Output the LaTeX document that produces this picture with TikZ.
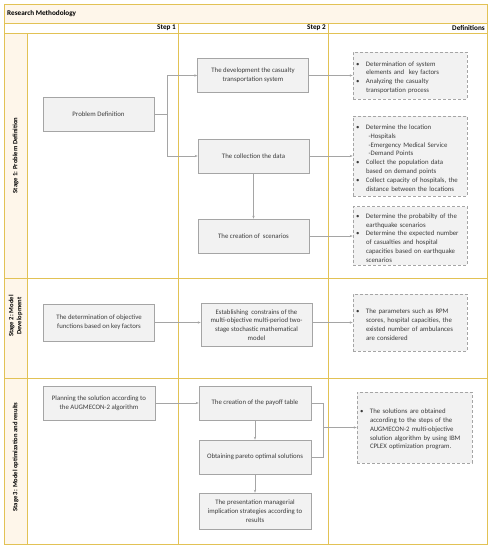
\documentclass[tikz,border=0pt]{standalone}
\usepackage{fontspec}
\setmainfont{Carlito}
\usetikzlibrary{arrows.meta}
\definecolor{gold}{HTML}{E2C255}
\definecolor{cream}{HTML}{FEF6EA}
\definecolor{boxgray}{HTML}{F2F2F2}
\definecolor{edgegray}{HTML}{A5A5A5}
\definecolor{txtgray}{HTML}{3C3C3C}
\newcommand{\bul}{\par\noindent\hangindent=10pt\hangafter=1\makebox[10pt][l]{\textbullet}}
\newcommand{\subit}[1]{\newline\hspace*{2.5pt}#1}

\begin{document}
\begin{tikzpicture}[x=1pt, y=-1pt, font=\fontsize{6.8}{8.8}\selectfont,
    box/.style={draw=edgegray, fill=boxgray, rectangle, line width=0.6pt, minimum width=111pt, minimum height=34pt, align=center, text=txtgray, inner sep=2pt},
    defbox/.style={draw=edgegray, fill=boxgray, rectangle, line width=0.6pt, dash pattern=on 3pt off 2pt, text width=108pt, inner sep=3pt, text=txtgray},
    arr/.style={draw=edgegray, line width=0.6pt, -{Stealth[length=3pt, width=2.4pt]}},
    lane/.style={draw=gold, line width=0.9pt},
    hd/.style={font=\fontsize{7.2}{8.6}\selectfont\bfseries, text=black, inner sep=0pt},
    stagelbl/.style={font=\fontsize{6.6}{8}\selectfont\bfseries, text=black, inner sep=0pt, rotate=90, align=center}]
    \useasboundingbox (0,0) rectangle (493,550);
    \fill[cream] (4,4) rectangle (487,23);
    \fill[cream] (4,33) rectangle (27,544);
    \draw[lane] (4,4) rectangle (487,544);
    \draw[lane] (4,23) -- (487,23);
    \draw[lane] (4,33) -- (487,33);
    \draw[lane] (4,278) -- (487,278);
    \draw[lane] (4,378) -- (487,378);
    \draw[lane] (27,33) -- (27,544);
    \draw[lane] (178,23) -- (178,544);
    \draw[lane] (328,23) -- (328,544);

    \node[hd, anchor=west] (title) at (7,13.5) {Research Methodology};
    \node[hd, anchor=east] (step1) at (176,28) {Step 1};
    \node[hd, anchor=east] (step2) at (326,28) {Step 2};
    \node[hd, anchor=east] (defs) at (485,28) {Definitions};
    \node[stagelbl] (stage1) at (15.5,155.5) {Stage 1: Problem Definition};
    \node[stagelbl] (stage2) at (15.5,316) {Stage 2: Model\\Development};
    \node[stagelbl] (stage3) at (15.5,457) {Stage 3: Model optimization and results};

    \node[box] (prob) at (98.5,114) {Problem Definition};
    \node[box] (dev) at (253,75.5) {The development the casualty\\transportation system};
    \node[box] (coll) at (253.5,156) {The collection the data};
    \node[box] (scen) at (253.5,236) {The creation of \ scenarios};
    \node[defbox, minimum height=47pt, align=left] (def1) at (410,75.5) {\bul Determination of system\newline elements and \ key factors\bul Analyzing the casualty\newline transportation process\par};
    \node[defbox, minimum height=80pt, align=left] (def2) at (410,156) {\bul Determine the location\subit{-Hospitals}\subit{-Emergency Medical Service}\subit{-Demand Points}\bul Collect the population data\newline based on demand points\bul Collect capacity of hospitals, the\newline distance between the locations\par};
    \node[defbox, minimum height=56pt, align=left] (def3) at (410,236) {\bul Determine the probabilty of the\newline earthquake scenarios\bul Determine the expected number\newline of casualties and hospital\newline capacities based on earthquake\newline scenarios\par};

    \node[box, minimum height=37pt] (obj) at (99,322.5) {The determination of objective\\functions based on key factors};
    \node[box, minimum height=43pt] (est) at (256.5,325) {Establishing \ constrains of the\\multi-objective multi-period two-\\stage stochastic mathematical\\model};
    \node[defbox, minimum height=57pt] (def4) at (410,322.5) {\bul The parameters such as RPM\linebreak scores, hospital capacities, the\linebreak existed number of ambulances\linebreak are considered\par};

    \node[box, minimum width=112pt] (plan) at (99,403) {Planning the solution according to\\the AUGMECON-2 algorithm};
    \node[box, minimum width=112pt] (pay) at (255,403) {The creation of the payoff table};
    \node[box, minimum width=112pt] (obt) at (255,457) {Obtaining pareto optimal solutions};
    \node[box, minimum width=112pt, minimum height=36pt] (pres) at (255,511) {The presentation managerial\\implication strategies according to\\results};
    \node[defbox, minimum height=71pt, text width=109pt] (def5) at (414.5,427.5) {\bul The solutions are obtained\linebreak according to the steps of the\linebreak AUGMECON-2 multi-objective\linebreak solution algorithm by using IBM\linebreak CPLEX optimization program.\par};
    \coordinate (jn) at (323,427.5);

    \draw[arr] (prob.east) -- +(13,0) |- (dev.west);
    \draw[arr] (prob.east) -- +(13,0) |- (coll.west);
    \draw[arr] (dev) -- (def1);
    \draw[arr] (coll) -- (def2);
    \draw[arr] (coll) -- (scen);
    \draw[arr] (scen) -- (def3);
    \draw[arr] (obj.east) -- (obj.east -| est.west);
    \draw[arr] (est.east |- def4.west) -- (def4.west);
    \draw[arr] (plan) -- (pay);
    \draw[arr] (pay) -- (obt);
    \draw[arr] (obt) -- (pres);
    \draw[draw=edgegray, line width=0.6pt] (pay.east) -| (jn);
    \draw[draw=edgegray, line width=0.6pt] (obt.east) -| (jn);
    \draw[arr] (jn) -- (def5.west);
\end{tikzpicture}
\end{document}
